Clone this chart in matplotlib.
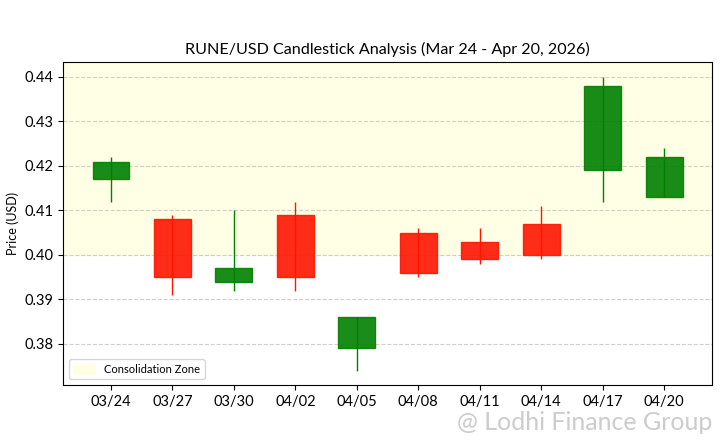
import matplotlib
matplotlib.use("Agg")
import matplotlib.pyplot as plt

plt.rcParams["font.family"] = ["Lato", "DejaVu Sans"]

dates = ["03/24", "03/27", "03/30", "04/02", "04/05",
         "04/08", "04/11", "04/14", "04/17", "04/20"]
opens = [0.417, 0.408, 0.394, 0.409, 0.379, 0.405, 0.403, 0.407, 0.419, 0.413]
closes = [0.421, 0.395, 0.397, 0.395, 0.386, 0.396, 0.399, 0.400, 0.438, 0.422]
highs = [0.422, 0.409, 0.410, 0.412, 0.386, 0.406, 0.406, 0.411, 0.440, 0.424]
lows = [0.412, 0.391, 0.392, 0.392, 0.374, 0.395, 0.398, 0.399, 0.412, 0.413]

zone_low = 0.40
zone_high = 0.45

fig = plt.figure(figsize=(7.2, 4.45), dpi=100)
ax = fig.add_axes([0.0875, 0.135, 0.9015, 0.726])

ax.axhspan(zone_low, zone_high, color="yellow", alpha=0.1, label="Consolidation Zone", zorder=0)

x = list(range(len(dates)))
for i in x:
    color = "green" if closes[i] >= opens[i] else "#ff1500"
    lo = min(opens[i], closes[i])
    h = abs(closes[i] - opens[i])
    ax.bar(i, h, bottom=lo, width=0.6, color=color, alpha=0.9, edgecolor=color, zorder=2)
    ax.vlines(i, lows[i], highs[i], color=color, linewidth=1, zorder=3)

ax.set_xticks(x)
ax.set_xticklabels(dates)
ax.set_ylim(0.3708, 0.4434)
ax.set_yticks([0.38, 0.39, 0.40, 0.41, 0.42, 0.43, 0.44])
ax.set_yticklabels(["0.38", "0.39", "0.40", "0.41", "0.42", "0.43", "0.44"])
ax.tick_params(labelsize=10.5)
ax.grid(True, axis="y", linestyle="--", alpha=0.6, zorder=1)
ax.set_axisbelow(True)

ax.set_title("RUNE/USD Candlestick Analysis (Mar 24 - Apr 20, 2026)", fontsize=11.6)
ax.set_ylabel("Price (USD)", fontsize=9)
ax.legend(loc="lower left", fontsize=8)

fig.text(0.99, 0.05, "@ Lodhi Finance Group", ha="right", va="center",
         fontsize=18, color="#cccccc")

fig.savefig("out.png", dpi=100)
